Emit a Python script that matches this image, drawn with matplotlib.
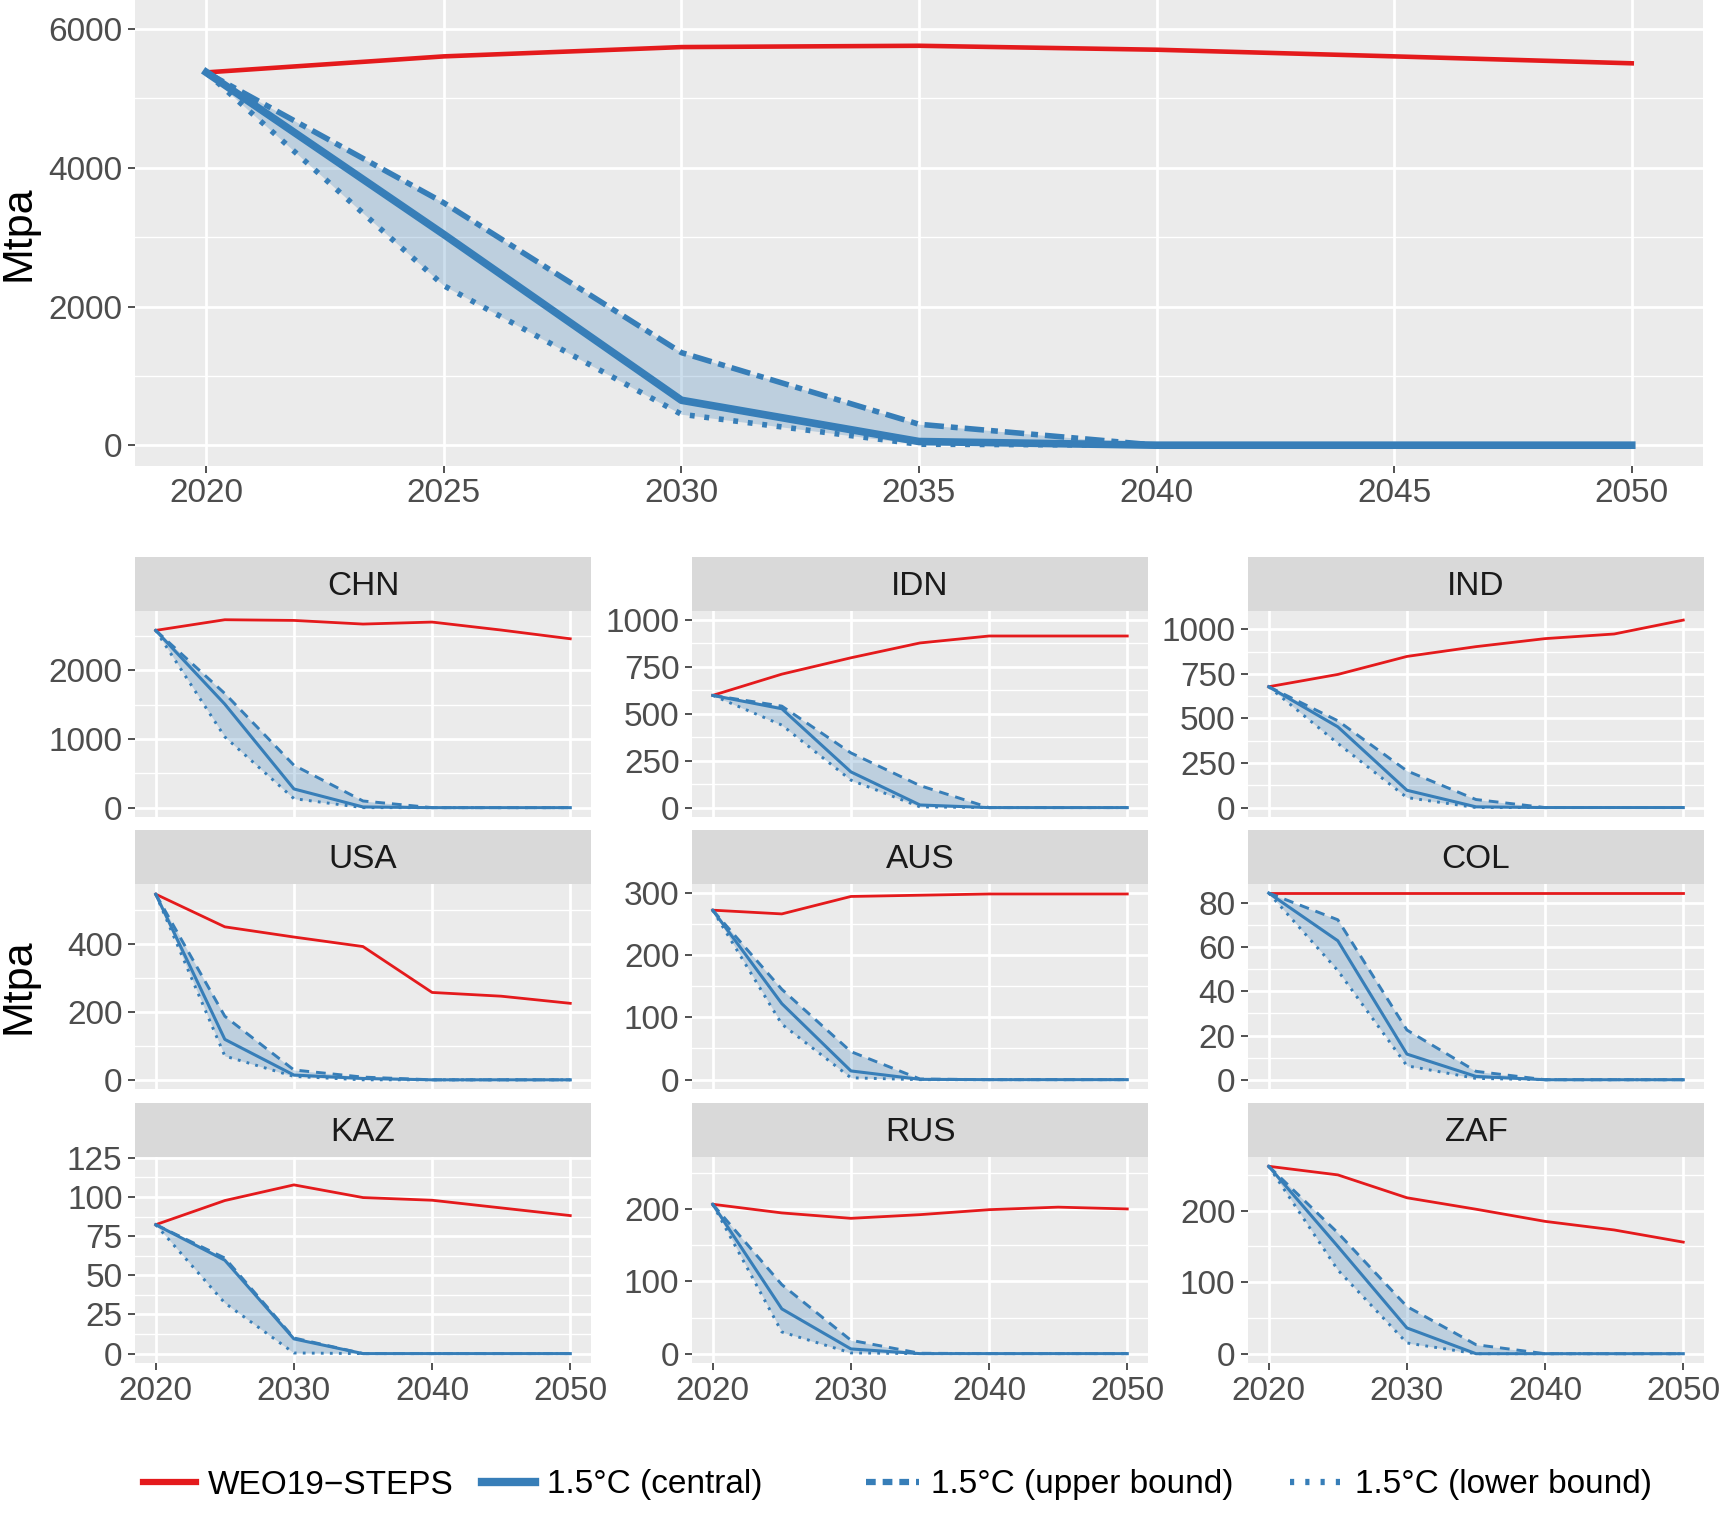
import matplotlib
matplotlib.use("Agg")
import matplotlib.pyplot as plt
from matplotlib.lines import Line2D
from matplotlib.ticker import MultipleLocator

plt.rcParams["font.family"] = ["Liberation Sans", "DejaVu Sans"]
plt.rcParams["lines.scale_dashes"] = False

# ---------------- data ----------------
years = [2020, 2025, 2030, 2035, 2040, 2045, 2050]

world_steps = [5376, 5607, 5741, 5760, 5703, 5607, 5507]
world_central = [5376, 3039, 648, 53, 0, 0, 0]
world_upper = [5376, 3495, 1335, 302, 0, 0, 0]
world_lower = [5376, 2300, 446, 14, 0, 0, 0]

countries = ["CHN", "IDN", "IND", "USA", "AUS", "COL", "KAZ", "RUS", "ZAF"]

steps_by_country = {
    "CHN": [2578, 2733, 2723, 2670, 2699, 2583, 2456],
    "IDN": [597, 710, 797, 876, 913, 913, 913],
    "IND": [678, 747, 848, 903, 948, 974, 1052],
    "USA": [546, 450, 420, 392, 257, 246, 225],
    "AUS": [272, 266, 294, 296, 298, 298, 298],
    "COL": [84.5, 84.5, 84.5, 84.5, 84.5, 84.5, 84.5],
    "KAZ": [82.3, 97.7, 107.7, 99.6, 97.9, 93.0, 88.1],
    "RUS": [207, 195, 187.5, 192.6, 199.5, 203, 200.5],
    "ZAF": [262, 250, 218, 202, 185, 173, 156],
}
central_by_country = {
    "CHN": [2578, 1505, 272, 10, 0, 0, 0],
    "IDN": [597, 526, 190, 14, 0, 0, 0],
    "IND": [678, 453, 97, 4, 0, 0, 0],
    "USA": [546, 119, 14, 4, 0, 0, 0],
    "AUS": [272, 122, 14, 0.5, 0, 0, 0],
    "COL": [84.5, 62.9, 11.6, 1.5, 0, 0, 0],
    "KAZ": [82.3, 59.6, 9.4, 0, 0, 0, 0],
    "RUS": [207, 62, 6.5, 0, 0, 0, 0],
    "ZAF": [262, 150, 36, 0, 0, 0, 0],
}
upper_by_country = {
    "CHN": [2578, 1660, 617, 97, 0, 0, 0],
    "IDN": [597, 540, 291, 117, 0, 0, 0],
    "IND": [678, 487, 206, 45, 0, 0, 0],
    "USA": [546, 187, 29, 8, 0, 0, 0],
    "AUS": [272, 145, 45, 1, 0, 0, 0],
    "COL": [84.5, 72.4, 22.5, 3.8, 0, 0, 0],
    "KAZ": [82.3, 61, 10, 0, 0, 0, 0],
    "RUS": [207, 95.6, 18.5, 0.5, 0, 0, 0],
    "ZAF": [262, 169, 66, 12.6, 0, 0, 0],
}
lower_by_country = {
    "CHN": [2578, 1029, 131, 0, 0, 0, 0],
    "IDN": [597, 439, 146, 4, 0, 0, 0],
    "IND": [678, 360, 56, 0, 0, 0, 0],
    "USA": [546, 70, 10, 0, 0, 0, 0],
    "AUS": [272, 89, 3, 0, 0, 0, 0],
    "COL": [84.5, 49.4, 6.3, 0.6, 0, 0, 0],
    "KAZ": [82.3, 32.3, 0.4, 0, 0, 0, 0],
    "RUS": [207, 30, 1, 0, 0, 0, 0],
    "ZAF": [262, 117, 15, 0, 0, 0, 0],
}

legend_labels = ["WEO19\u2212STEPS", "1.5\u00b0C (central)", "1.5\u00b0C (upper bound)", "1.5\u00b0C (lower bound)"]

# axis settings (layout, not data)
facet_ylim = {
    "CHN": (-136, 2860), "IDN": (-50, 1046), "IND": (-53, 1103),
    "USA": (-27, 576), "AUS": (-15, 314), "COL": (-4.2, 88.6),
    "KAZ": (-6, 125.5), "RUS": (-13, 272.5), "ZAF": (-13, 275),
}
facet_major = {"CHN": 1000, "IDN": 250, "IND": 250, "USA": 200, "AUS": 100,
               "COL": 20, "KAZ": 25, "RUS": 100, "ZAF": 100}

# ---------------- style ----------------
RED = "#E41A1C"
BLUE = "#377EB8"
PANEL = "#EBEBEB"
STRIP = "#D9D9D9"
TICKC = "#333333"
LABC = "#4D4D4D"
FS = 24

W, H = 1725, 1518
fig = plt.figure(figsize=(W / 100, H / 100), dpi=100)


def rect(x0, y0, x1, y1):
    return [x0 / W, 1 - y1 / H, (x1 - x0) / W, (y1 - y0) / H]


def style_axes(ax, major, minor, show_x):
    ax.set_facecolor(PANEL)
    for s in ax.spines.values():
        s.set_visible(False)
    ax.yaxis.set_major_locator(MultipleLocator(major))
    ax.yaxis.set_minor_locator(MultipleLocator(minor))
    ax.grid(True, which="major", color="white", linewidth=2.0, zorder=0)
    ax.grid(True, which="minor", axis="y", color="white", linewidth=1.0, zorder=0)
    ax.set_axisbelow(True)
    ax.tick_params(axis="both", which="major", length=5, width=1.2, color=TICKC,
                   labelcolor=LABC, labelsize=FS, pad=4)
    ax.tick_params(axis="both", which="minor", length=0)
    if not show_x:
        ax.tick_params(axis="x", which="major", length=0, labelbottom=False)


# ---------------- top panel ----------------
ax0 = fig.add_axes(rect(135, 0, 1703, 466))
style_axes(ax0, 2000, 1000, True)
ax0.set_xticks([2020, 2025, 2030, 2035, 2040, 2045, 2050])
ax0.set_xlim(2018.5, 2051.5)
ax0.set_ylim(-300, 6420)
ax0.fill_between(years, world_lower, world_upper, color=BLUE, alpha=0.25, linewidth=0, zorder=2)
ax0.plot(years, world_steps, color=RED, linewidth=3.3, zorder=3)
ax0.plot(years, world_upper, color=BLUE, linewidth=4, dashes=(14, 5, 5, 5), zorder=4)
ax0.plot(years, world_lower, color=BLUE, linewidth=4, dashes=(3.5, 7), zorder=4)
ax0.plot(years, world_central, color=BLUE, linewidth=5.5, zorder=5)
fig.text(18 / W, 1 - 233 / H, "Mtpa", rotation=90, ha="center", va="center", fontsize=31)

# ---------------- facets ----------------
cols = [(135, 591), (692, 1148), (1248, 1704)]
strips = [(557, 611), (830, 884), (1103, 1157)]
panels = [(611, 817), (884, 1089), (1157, 1363)]

for i, c in enumerate(countries):
    r, k = divmod(i, 3)
    x0, x1 = cols[k]
    sy0, sy1 = strips[r]
    py0, py1 = panels[r]
    ax = fig.add_axes(rect(x0, py0, x1, py1))
    style_axes(ax, facet_major[c], facet_major[c] / 2, r == 2)
    ax.set_xticks([2020, 2030, 2040, 2050])
    ax.set_xlim(2018.5, 2051.5)
    ax.set_ylim(*facet_ylim[c])
    ax.fill_between(years, lower_by_country[c], upper_by_country[c], color=BLUE, alpha=0.25,
                    linewidth=0, zorder=2)
    ax.plot(years, steps_by_country[c], color=RED, linewidth=2.0, zorder=3)
    ax.plot(years, upper_by_country[c], color=BLUE, linewidth=2.1, dashes=(7, 5), zorder=4)
    ax.plot(years, lower_by_country[c], color=BLUE, linewidth=2.1, dashes=(2, 4.5), zorder=4)
    ax.plot(years, central_by_country[c], color=BLUE, linewidth=2.2, zorder=5)

    sax = fig.add_axes(rect(x0, sy0, x1, sy1))
    sax.set_facecolor(STRIP)
    for s in sax.spines.values():
        s.set_visible(False)
    sax.set_xticks([])
    sax.set_yticks([])
    sax.text(0.5, 0.45, c, ha="center", va="center", fontsize=FS, color="#1A1A1A",
             transform=sax.transAxes)

fig.text(18 / W, 1 - 986 / H, "Mtpa", rotation=90, ha="center", va="center", fontsize=31)

# ---------------- legend ----------------
handles = [
    Line2D([], [], color=RED, linewidth=4.5),
    Line2D([], [], color=BLUE, linewidth=6),
    Line2D([], [], color=BLUE, linewidth=4.5, dashes=(7, 5)),
    Line2D([], [], color=BLUE, linewidth=4.5, dashes=(3, 8)),
]
key_x = [143, 482, 866, 1290]
for h, lab, kx in zip(handles, legend_labels, key_x):
    fig.legend([h], [lab], loc="center left", bbox_to_anchor=(kx / W, 1 - 1485 / H),
               frameon=False, fontsize=FS, borderpad=0, borderaxespad=0,
               handlelength=1.6, handletextpad=0.35)

fig.savefig("out.png", dpi=100, facecolor="white")
